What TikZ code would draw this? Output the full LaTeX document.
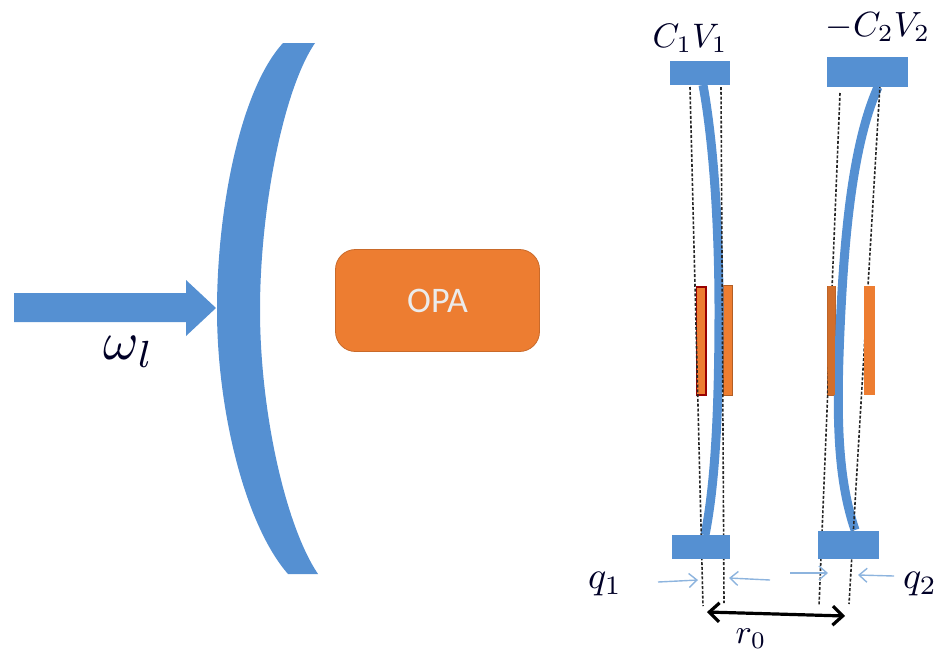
\documentclass[tikz,border=0pt]{standalone}
\usepackage{fontspec}
\setmainfont{Carlito}
\usetikzlibrary{arrows.meta}
\definecolor{bluefill}{HTML}{5590D2}
\definecolor{orangefill}{HTML}{ED7D31}
\definecolor{paleblue}{HTML}{8DB4DE}
\tikzset{
  x=1pt,y=-1pt,
  plate/.style={fill=bluefill,draw=none},
  beam/.style={draw=bluefill,line width=9pt,line cap=butt},
  guide/.style={draw=black!85,line width=1.6pt,dash pattern=on 3pt off 1.8pt},
  electrode/.style={fill=orangefill,draw=none},
  smallarrow/.style={draw=paleblue,line width=1.4pt,-{Straight Barb[length=8pt,width=14pt,line width=1.4pt]}},
  gap/.style={draw=black,line width=3.2pt,{Straight Barb[length=10pt,width=19pt,line width=3.2pt]}-{Straight Barb[length=10pt,width=19pt,line width=3.2pt]}},
  lab/.style={inner sep=0pt,text=black!85!blue}
}
\begin{document}
\begin{tikzpicture}
\useasboundingbox (0,0) rectangle (944,665);
% mirror
\fill[bluefill] (283,43) .. controls (240,90) and (217,210) .. (217,310)
  .. controls (217,410) and (245,525) .. (288,574)
  -- (318,574) .. controls (285,525) and (260,410) .. (260,310)
  .. controls (260,210) and (283,90) .. (315,43) -- cycle;
% input arrow
\fill[bluefill] (14,293) -- (186,293) -- (186,280) -- (216,308) -- (186,336) -- (186,322) -- (14,322) -- cycle;
\node[lab,scale=5.4] (omega) at (129,352) {$\omega_l$};
% OPA box
\node[fill=orangefill,draw=orangefill!85!black,line width=.8pt,rounded corners=20pt,minimum width=204pt,minimum height=102pt,inner sep=0pt,text=white!92!black,font=\fontsize{36}{40}\selectfont] (opa) at (437.5,300.5) {OPA};
% electrodes under beams
\draw[electrode,draw=red!60!black,line width=1.2pt] (696.5,287) rectangle (706,395);
\draw[electrode,draw=orangefill!75!black,line width=1pt] (723.5,285) rectangle (732.5,395);
\draw[electrode,fill=orangefill!88!black,draw=orangefill!80!black,line width=.8pt] (827.5,286) rectangle (835,395);
% beams
\draw[beam] (703,85) .. controls (714,145) and (719,230) .. (719,310)
  .. controls (719,400) and (716,480) .. (705,535);
\draw[beam] (878,87) .. controls (852,145) and (844,240) .. (840,330)
  .. controls (836,420) and (838,480) .. (855,530);
% guides
\coordinate (a1) at (690,87);  \coordinate (a2) at (703,606);
\coordinate (b1) at (721,87);  \coordinate (b2) at (724,603);
\coordinate (c1) at (840,93);  \coordinate (c2) at (819,606);
\coordinate (d1) at (880,85);  \coordinate (d2) at (849,604);
\draw[guide] (a1) -- (a2);
\draw[guide] (b1) -- (b2);
\draw[guide] (c1) -- (c2);
\draw[guide] (d1) -- (d2);
% electrodes over guides
\fill[orangefill!88!black] (827.5,286) rectangle (835,395);
\fill[electrode] (864,286) rectangle (875,395);
% plates
\node[plate,minimum width=60pt,minimum height=24pt,inner sep=0pt] (p1) at (700,73) {};
\node[plate,minimum width=81pt,minimum height=30pt,inner sep=0pt] (p2) at (867.5,72) {};
\node[plate,minimum width=58pt,minimum height=24pt,inner sep=0pt] (p3) at (701,547) {};
\node[plate,minimum width=61pt,minimum height=28pt,inner sep=0pt] (p4) at (848.5,545) {};
% labels
\node[lab,scale=3.4] (c1v1) at (690,38) {$C_1V_1$};
\node[lab,scale=3.5] (c2v2) at (878,27) {$-C_2V_2$};
\node[lab,scale=3.8] (q1) at (605,584) {$q_1$};
\node[lab,scale=3.8] (q2) at (920,584) {$q_2$};
\node[lab,scale=3.4] (r0) at (751,639) {$r_0$};
% small arrows
\coordinate (s1) at (658,582); \coordinate (e1) at (698,580);
\coordinate (s2) at (770,580); \coordinate (e2) at (729,578);
\coordinate (s3) at (790,573); \coordinate (e3) at (828,573);
\coordinate (s4) at (894,576); \coordinate (e4) at (858,575);
\draw[smallarrow] (s1) -- (e1);
\draw[smallarrow] (s2) -- (e2);
\draw[smallarrow] (s3) -- (e3);
\draw[smallarrow] (s4) -- (e4);
% separation
\coordinate (g1) at (707,612); \coordinate (g2) at (845,616);
\draw[gap] (g1) -- (g2);
\end{tikzpicture}
\end{document}
